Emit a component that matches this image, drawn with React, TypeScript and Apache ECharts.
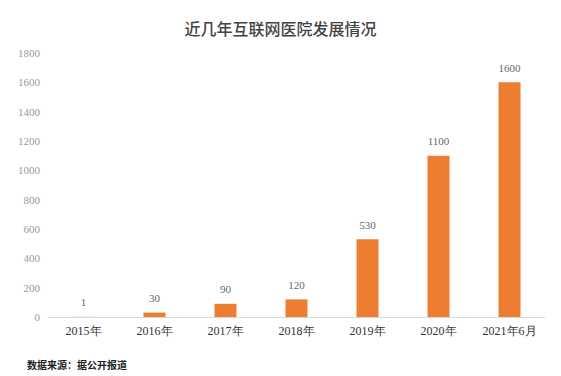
import React, { useEffect, useRef } from "react";
import * as echarts from "echarts";

const categories = ["2015年", "2016年", "2017年", "2018年", "2019年", "2020年", "2021年6月"];
const hospitals = [1, 30, 90, 120, 530, 1100, 1600];
const yTicks = { min: 0, max: 1800, interval: 200 };

const serif = "'Times New Roman', 'Liberation Serif', serif";

export default function App() {
  const ref = useRef<HTMLDivElement>(null);
  useEffect(() => {
    const chart = echarts.init(ref.current!, undefined, { renderer: "svg" });
    chart.setOption({
      animation: false,
      backgroundColor: "#ffffff",
      title: {
        text: "近几年互联网医院发展情况",
        left: "center",
        top: 15,
        textStyle: { fontFamily: "Noto Sans CJK SC", fontSize: 16, fontWeight: 500, color: "#444" },
      },
      graphic: [
        {
          type: "text",
          left: 27,
          top: 359,
          style: {
            text: "数据来源：据公开报道",
            font: "bold 10px Noto Sans CJK SC",
            fill: "#222",
          },
        },
      ],
      grid: { left: 48, right: 16, top: 53, bottom: 59, containLabel: false },
      xAxis: {
        type: "category",
        data: categories,
        axisLine: { lineStyle: { color: "#d9d9d9", width: 1 } },
        axisTick: { show: false },
        axisLabel: { interval: 0, fontFamily: serif, fontSize: 12, color: "#333", margin: 8 },
      },
      yAxis: {
        type: "value",
        min: yTicks.min,
        max: yTicks.max,
        interval: yTicks.interval,
        axisLine: { show: false },
        axisTick: { show: false },
        splitLine: { show: false },
        axisLabel: {
          fontFamily: serif,
          fontSize: 11,
          color: "#999",
          margin: 8,
          formatter: (v: number) => String(v),
        },
      },
      series: [
        {
          type: "bar",
          data: hospitals,
          barWidth: 22,
          itemStyle: { color: "#ED7D31" },
          label: {
            show: true,
            position: "top",
            distance: 9,
            fontFamily: serif,
            fontSize: 11,
            color: "#666",
          },
        },
      ],
    });
    return () => chart.dispose();
  }, []);
  return <div ref={ref} style={{ width: 561, height: 376, position: "absolute", left: 0, top: 0 }} />;
}
